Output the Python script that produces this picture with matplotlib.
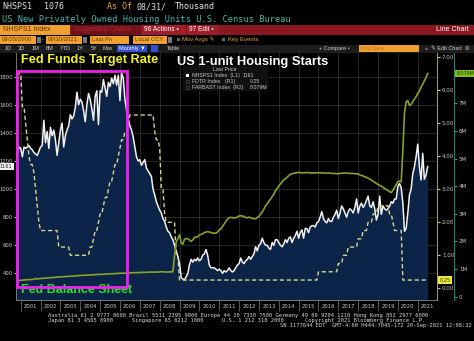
import matplotlib
matplotlib.use("Agg")
import matplotlib.pyplot as plt
from matplotlib.patches import Rectangle
import numpy as np

W, H = 474, 341

# monthly single-family housing starts, thousands (Sep 2000 - Jun 2021)
starts = [
    1210, 1260, 1300, 1290,
    1230, 1300, 1290, 1300, 1310, 1290, 1280, 1260, 1250, 1240, 1270, 1300,
    1310, 1490, 1330, 1410, 1290, 1440, 1380, 1420, 1350, 1240, 1330, 1420,
    1470, 1300, 1380, 1420, 1450, 1530, 1500, 1520, 1580, 1690, 1600, 1640,
    1620, 1560, 1480, 1600, 1680, 1640, 1570, 1490, 1660, 1700, 1460, 1700,
    1690, 1780, 1720, 1660, 1760, 1730, 1790, 1750, 1810, 1740, 1810, 1630,
    1825, 1790, 1640, 1560, 1500, 1450, 1420, 1370, 1300, 1230, 1200, 1210,
    1170, 1190, 1210, 1150, 1130, 1110, 1090, 1000, 960, 910, 880, 850,
    830, 790, 770, 730, 700, 690, 660, 640, 600, 560, 520, 470,
    370, 360, 355, 375, 400, 460, 500, 480, 500, 490, 510, 490,
    500, 530, 540, 570, 530, 460, 440, 440, 440, 430, 420, 430,
    420, 400, 420, 410, 420, 440, 420, 410, 420, 440, 460, 470,
    510, 480, 470, 490, 500, 520, 500, 520, 540, 590, 560, 600,
    610, 650, 620, 600, 600, 580, 570, 620, 600, 640, 640, 620,
    600, 590, 610, 640, 620, 650, 660, 620, 650, 670, 700, 650,
    690, 710, 650, 720, 720, 690, 730, 740, 740, 730, 760, 770,
    800, 840, 790, 770, 760, 790, 770, 770, 800, 820, 850, 790,
    830, 880, 860, 830, 800, 840, 860, 850, 830, 870, 930, 830,
    880, 900, 870, 890, 920, 950, 880, 870, 910, 860, 780, 820,
    950, 820, 880, 860, 850, 860, 880, 910, 900, 930, 930, 1020,
    1040, 1010, 900, 700, 720, 830, 960, 1000, 1110, 1160, 1230, 1320,
    1160, 1065, 1255, 1070, 1100, 1161,
]

# fed funds target rate, %
fdtr = (
    [6.5] * 4
    + [5.5, 5.5, 5.0, 4.5, 4.0, 3.75, 3.75, 3.5, 3.0, 2.5, 2.0, 1.75]
    + [1.75] * 10 + [1.25, 1.25]
    + [1.25] * 5 + [1.0] * 7
    + [1.0] * 5 + [1.25, 1.25, 1.5, 1.75, 1.75, 2.0, 2.25]
    + [2.25, 2.5, 2.75, 2.75, 3.0, 3.25, 3.25, 3.5, 3.75, 3.75, 4.0, 4.25]
    + [4.5, 4.5, 4.75, 4.75, 5.0, 5.25] + [5.25] * 6
    + [5.25] * 8 + [4.75, 4.5, 4.5, 4.25]
    + [3.0, 3.0, 2.25, 2.0, 2.0, 2.0, 2.0, 2.0, 2.0, 1.0, 1.0, 0.25]
    + [0.25] * 72
    + [0.25] * 11 + [0.5]
    + [0.5] * 11 + [0.75]
    + [0.75, 0.75, 1.0, 1.0, 1.0, 1.25, 1.25, 1.25, 1.25, 1.25, 1.25, 1.5]
    + [1.5, 1.5, 1.75, 1.75, 1.75, 2.0, 2.0, 2.0, 2.25, 2.25, 2.25, 2.5]
    + [2.5] * 6 + [2.25, 2.25, 2.0, 1.75, 1.75, 1.75]
    + [1.75, 1.75] + [0.25] * 10
    + [0.25] * 6
)

# fed balance sheet, trillions USD (shown as M of millions)
farbast = [
    0.58, 0.58, 0.59, 0.59,
    0.60, 0.60, 0.61, 0.61, 0.62, 0.62, 0.62, 0.63, 0.66, 0.64, 0.65, 0.66,
    0.66, 0.67, 0.67, 0.68, 0.68, 0.69, 0.69, 0.70, 0.70, 0.71, 0.71, 0.72,
    0.72, 0.72, 0.73, 0.73, 0.74, 0.74, 0.74, 0.75, 0.75, 0.76, 0.76, 0.77,
    0.77, 0.77, 0.78, 0.78, 0.78, 0.79, 0.79, 0.79, 0.80, 0.80, 0.81, 0.81,
    0.81, 0.81, 0.82, 0.82, 0.82, 0.83, 0.83, 0.83, 0.84, 0.84, 0.84, 0.85,
    0.85, 0.85, 0.85, 0.86, 0.86, 0.86, 0.86, 0.87, 0.87, 0.87, 0.87, 0.88,
    0.88, 0.88, 0.88, 0.88, 0.89, 0.89, 0.89, 0.89, 0.89, 0.89, 0.89, 0.90,
    0.90, 0.90, 0.90, 0.89, 0.89, 0.90, 0.90, 0.90, 1.49, 1.97, 2.10, 2.24,
    1.95, 1.90, 2.08, 2.10, 2.10, 2.05, 2.00, 2.05, 2.15, 2.15, 2.17, 2.24,
    2.25, 2.28, 2.32, 2.34, 2.35, 2.34, 2.33, 2.30, 2.30, 2.30, 2.34, 2.42,
    2.45, 2.55, 2.63, 2.72, 2.80, 2.86, 2.87, 2.86, 2.85, 2.86, 2.88, 2.92,
    2.93, 2.92, 2.90, 2.86, 2.86, 2.88, 2.85, 2.84, 2.82, 2.82, 2.86, 2.91,
    2.98, 3.07, 3.17, 3.29, 3.36, 3.45, 3.53, 3.62, 3.71, 3.84, 3.91, 4.01,
    4.08, 4.16, 4.23, 4.27, 4.32, 4.38, 4.43, 4.45, 4.46, 4.48, 4.49, 4.50,
    4.49, 4.48, 4.48, 4.49, 4.49, 4.49, 4.48, 4.48, 4.48, 4.48, 4.49, 4.48,
    4.49, 4.48, 4.48, 4.47, 4.47, 4.48, 4.47, 4.46, 4.46, 4.46, 4.45, 4.45,
    4.46, 4.47, 4.47, 4.48, 4.47, 4.47, 4.46, 4.46, 4.46, 4.45, 4.45, 4.44,
    4.41, 4.39, 4.37, 4.34, 4.32, 4.29, 4.25, 4.22, 4.18, 4.14, 4.10, 4.06,
    4.03, 4.00, 3.96, 3.92, 3.88, 3.84, 3.80, 3.77, 3.85, 3.95, 4.05, 4.17,
    4.18, 4.16, 5.30, 6.66, 7.05, 7.10, 6.92, 6.96, 7.06, 7.15, 7.24, 7.36,
    7.44, 7.58, 7.69, 7.81, 7.93, 8.079,
]

years = list(range(2001, 2022))
left_ticks = [400, 600, 800, 1000, 1200, 1400, 1600, 1800]
r1_ticks = [0, 1, 2, 3, 4, 5, 6, 7]
r2_ticks = [0, 1, 2, 3, 4, 5, 6, 7]

# month-end positions as fractional years, Sep 2000 .. Jun 2021
x = 2000 + (9 + np.arange(len(starts))) / 12

NAVY = "#0b2447"
GRID = "#2e2e2e"
TICKC = "#c8c8c8"
ORANGE = "#f0a030"
DASH = "#d6d68c"
GREEN = "#86a32a"

fig = plt.figure(figsize=(W / 100, H / 100), dpi=100, facecolor="black")

# ---- main chart ----
ax = fig.add_axes([16 / W, 1 - 300 / H, (437 - 16) / W, (300 - 53) / H])
ax.set_facecolor("black")
ax.set_xlim(2000.763, 2021.97)
ax.set_ylim(210.7, 1969)
ax.fill_between(x, starts, 0, color=NAVY, lw=0, zorder=1)
ax.plot(x, starts, color="#f2f2f2", lw=1.1, zorder=3)

ax.set_xticks(years)
ax.set_xticklabels([])
ax.set_xticks([y + 0.5 for y in years], minor=True)
ax.set_xticklabels([str(y) for y in years], minor=True)
ax.tick_params(axis="x", which="major", length=8, color="#555555", direction="out")
ax.tick_params(axis="x", which="minor", length=0, labelsize=3.8, labelcolor=TICKC, pad=3)
ax.set_yticks(left_ticks)
ax.set_yticklabels([str(v) for v in left_ticks])
ax.tick_params(axis="y", length=1.5, color="#aaaaaa", labelsize=3.8, labelcolor=TICKC, pad=0.6)
ax.grid(True, which="major", color=GRID, lw=0.6, zorder=0)
ax.set_axisbelow(True)
for s in ("top", "right"):
    ax.spines[s].set_visible(False)
for s in ("left", "bottom"):
    ax.spines[s].set_color("#888888")
    ax.spines[s].set_linewidth(0.6)

# last value tag on left axis
ax.text(-0.0238, starts[-1], f"{starts[-1]}", transform=ax.get_yaxis_transform(),
        ha="center", va="center", fontsize=3.6, color="#222222",
        bbox=dict(boxstyle="square,pad=0.25", fc="#f0f0f0", ec="none"), clip_on=False)

# fed funds on first right axis
ax_r1 = ax.twinx()
ax_r1.set_ylim(-0.355, 7.13)
ax_r1.plot(x, fdtr, color=DASH, lw=1.0, ls=(0, (3, 2)), zorder=4)
ax_r1.set_yticks(r1_ticks)
ax_r1.set_yticklabels([f"{v:.2f}" for v in r1_ticks])
ax_r1.tick_params(axis="y", length=2.5, color="#cccc66", labelsize=4, labelcolor=TICKC, pad=1)
for s in ("top", "left", "bottom"):
    ax_r1.spines[s].set_visible(False)
ax_r1.spines["right"].set_color("#a6a63a")
ax_r1.spines["right"].set_linewidth(0.7)
ax_r1.text(1.019, fdtr[-1], f"{fdtr[-1]:.2f}", transform=ax_r1.get_yaxis_transform(),
           ha="center", va="center", fontsize=3.6, color="#333300",
           bbox=dict(boxstyle="square,pad=0.25", fc="#e8e840", ec="none"), clip_on=False)

# balance sheet on second right axis
ax_r2 = ax.twinx()
ax_r2.spines["right"].set_position(("axes", 1.0404))
ax_r2.set_ylim(-0.12, 8.82)
ax_r2.plot(x, farbast, color=GREEN, lw=1.2, zorder=5)
ax_r2.set_yticks(r2_ticks)
ax_r2.set_yticklabels(["0"] + [f"{v}M" for v in r2_ticks[1:]])
ax_r2.tick_params(axis="y", length=2.5, color="#2a9a9a", labelsize=4, labelcolor=TICKC, pad=1)
for s in ("top", "left", "bottom"):
    ax_r2.spines[s].set_visible(False)
ax_r2.spines["right"].set_color("#1f8484")
ax_r2.spines["right"].set_linewidth(0.7)
ax_r2.text(1.0677, farbast[-1], f"{farbast[-1]:.3f}M", transform=ax_r2.get_yaxis_transform(),
           ha="center", va="center", fontsize=3.4, color="#203000",
           bbox=dict(boxstyle="square,pad=0.25", fc="#80c020", ec="none"), clip_on=False)

# ---- terminal chrome, annotations, footer (pixel coords) ----
ui = fig.add_axes([0, 0, 1, 1], zorder=10)
ui.set_xlim(0, W)
ui.set_ylim(H, 0)
ui.axis("off")
ui.patch.set_alpha(0)

mono = ["DejaVu Sans Mono", "DejaVu Sans"]
sans = ["Liberation Sans", "DejaVu Sans"]

def label(px, py, s, color="#e0e0e0", size=4.2, family=sans, **kw):
    ui.text(px, py, s, color=color, fontsize=size, family=family, va="center", **kw)

def box(px, py, w, h, color):
    ui.add_patch(Rectangle((px, py), w, h, fc=color, ec="none"))

# row 1 / row 2
label(2, 6.5, "NHSPS1", size=6, family=mono)
label(44, 6.5, "1076", size=6, family=mono)
label(107, 6.5, "As Of", color=ORANGE, size=6, family=mono)
label(137, 6.5, "08/31/", size=6, family=mono)
label(175, 6.5, "Thousand", size=6, family=mono)
label(2, 19, "US New Privately Owned Housing Units U.S. Census Bureau",
      color="#40b8b0", size=6.2, family=mono)

# row 3: red bar
box(0, 24.5, W, 10, "#8a1620")
box(0, 24.5, 70, 10, ORANGE)
label(3, 29.5, "NHSPS1 Index", color="#5a3000", size=5)
box(71, 24.5, 70, 10, "#741018")
label(74, 29.5, "Suggested Charts", color="#a83038", size=5)
box(142, 24.5, 44, 10, "#a01c28")
label(144, 29.5, "96 Actions \u2022", color="white", size=4.8)
box(187, 24.5, 32, 10, "#a01c28")
label(189, 29.5, "97 Edit \u2022", color="white", size=4.8)
label(469, 29.5, "Line Chart", color="white", size=5, ha="right")

# row 4: date range & options
for bx, bw, txt in [(0, 36, "09/25/2000"), (46, 36, "06/30/2021"),
                    (90.5, 39, "Last Px"), (133, 34, "Local CCY")]:
    box(bx, 35.5, bw, 8, ORANGE)
    label(bx + 2, 39.5, txt, color="#6a3800", size=4.3)
for bx in (37, 83, 168):
    box(bx, 36.5, 4, 6, "#777777")
label(42, 39.5, "-", color="#cccccc", size=4.3)
box(177, 37.5, 3, 3, "#666666")
label(182, 39.5, "Mov Avgs \u270e", color=ORANGE, size=4.3)
box(222, 37.5, 3, 3, "#666666")
label(228, 39.5, "Key Events", color=ORANGE, size=4.3)

# row 5: toolbar
box(0, 44.5, W, 8, "#1c1c1c")
for bx, txt in [(5, "1D"), (18, "3D"), (32, "1M"), (46, "6M"), (60, "YTD"),
                (77, "1Y"), (91, "5Y"), (103, "Max")]:
    label(bx, 48.5, txt, color="#d0d0d0", size=4)
box(117, 45, 30, 7, "#3050d0")
label(119, 48.5, "Monthly \u25bc", color="white", size=4)
box(151, 45, 7, 7, "#3050d0")
label(167, 48.5, "Table", color="#d0d0d0", size=4)
label(319, 48.5, "+ Compare \u2022", color="#d0d0d0", size=4)
box(359, 45, 60, 7, ORANGE)
label(361, 48.5, "Add Data", color="#c07820", size=4)
label(425, 48.5, "\u00ab  \u270e Edit Chart  \u2699", color="#d0d0d0", size=4)

# chart annotations
ui.text(20.7, 59.5, "Fed Funds Target Rate", color="#f2f21e", fontsize=9.2,
        family=sans, weight="bold", va="center")
ui.text(177, 61.5, "US 1-unit Housing Starts", color="white", fontsize=9.3,
        family=sans, weight="bold", va="center")
ui.text(20.7, 290, "Fed Balance Sheet", color="#1ee61e", fontsize=9,
        family=sans, weight="bold", va="center", zorder=2)
ui.add_patch(Rectangle((16.7, 70.7), 110, 216.6, fill=False, ec="#f020f0", lw=2.0, zorder=3))

# legend
box(183, 66, 85, 25, "#101010")
label(213, 69.5, "Last Price", color="#c8c8c8", size=3.8)
ui.add_patch(Rectangle((186, 73.5), 3.5, 3.5, fc="white", ec="none"))
ui.add_patch(Rectangle((186, 79.5), 3.5, 3.5, fc="none", ec="#555555", lw=0.4))
ui.add_patch(Rectangle((186, 85.5), 3.5, 3.5, fc="none", ec="#555555", lw=0.4))
label(192, 75.2, "NHSPS1 Index  (L1)", color="#c8c8c8", size=3.8)
label(243, 75.2, f"{starts[-1]}", color="#c8c8c8", size=3.8)
label(192, 81.2, "FDTR Index   (R1)", color="#c8c8c8", size=3.8)
label(250, 81.2, f"{fdtr[-1]:.2f}", color="#c8c8c8", size=3.8)
label(192, 87.2, "FARBAST Index  (R2)", color="#c8c8c8", size=3.8)
label(250, 87.2, f"{farbast[-1]:.3f}M", color="#c8c8c8", size=3.8)

# footer
fc = "#d8d8d8"
label(48, 316, "Australia 61 2 9777 8600 Brazil 5511 2395 9000 Europe 44 20 7330 7500 "
      "Germany 49 69 9204 1210 Hong Kong 852 2977 6000", color=fc, size=3.9, family=mono)
label(48, 320.5, "Japan 81 3 4565 8900", color=fc, size=3.9, family=mono)
label(132, 320.5, "Singapore 65 6212 1000", color=fc, size=3.9, family=mono)
label(222, 320.5, "U.S. 1 212 318 2000", color=fc, size=3.9, family=mono)
label(305, 320.5, "Copyright 2021 Bloomberg Finance L.P.", color=fc, size=3.9, family=mono)
label(280, 325, "SN 1177644 EDT  GMT-4:00 H444-7045-172 20-Sep-2021 12:08:32",
      color=fc, size=3.9, family=mono)

fig.savefig("out.png", dpi=100, facecolor="black")
